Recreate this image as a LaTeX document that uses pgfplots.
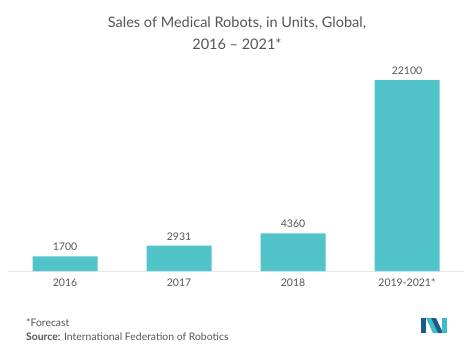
\documentclass[border=0pt]{standalone}
\usepackage{pgfplots}
\pgfplotsset{compat=1.18}
\usepackage{fontspec}
\setmainfont{Lato}
\definecolor{barc}{RGB}{80,196,200}
\definecolor{txt}{RGB}{85,85,85}
\definecolor{logob}{RGB}{30,90,140}
\definecolor{logot}{RGB}{60,190,200}
\begin{document}
\begin{tikzpicture}[x=1pt,y=1pt]
\useasboundingbox (0,0) rectangle (474,346);
\begin{axis}[
  at={(8pt,75pt)}, anchor=south west,
  scale only axis, width=456pt, height=216pt,
  xmin=-0.5, xmax=3.5, ymin=0, ymax=25000,
  axis x line=bottom, axis y line=none,
  x axis line style={draw=black!10, line width=1pt, -},
  xtick=data,
  xticklabels={2016,2017,2018,2019-2021*},
  major tick length=0pt,
  xticklabel style={font=\fontsize{10.5}{12}\selectfont, text=txt, yshift=-4pt},
  ybar, bar width=65pt,
  /pgf/number format/1000 sep={},
  /pgf/number format/assume math mode=true,
  nodes near coords,
  nodes near coords style={font=\fontsize{10.5}{12}\selectfont, text=txt, yshift=2pt},
  clip=false,
]
\addplot[fill=barc, draw=none] coordinates {(0,1700) (1,2931) (2,4360) (3,22100)};
\end{axis}
\node[text=txt, align=center, font=\fontsize{14.5}{22}\selectfont] at (237,313) {Sales of Medical Robots, in Units, Global,\\2016 -- 2021*};
\node[text=txt, anchor=west, font=\fontsize{10.4}{12}\selectfont, inner sep=0pt] at (26,23) {*Forecast};
\node[text=txt, anchor=west, font=\fontsize{10.4}{12}\selectfont, inner sep=0pt] at (26,9) {\textbf{Source:} International Federation of Robotics};
% logo
\fill[logob] (421,13) -- (421,28) -- (426,28) -- (426,13) -- cycle;
\fill[logot] (426,28) -- (431,28) -- (438,13) -- (433,13) -- cycle;
\fill[logob] (431,28) -- (436,28) -- (443,13) -- (438,13) -- cycle;
\fill[logot] (442,13) -- (442,28) -- (447,28) -- (447,13) -- cycle;
\end{tikzpicture}
\end{document}
